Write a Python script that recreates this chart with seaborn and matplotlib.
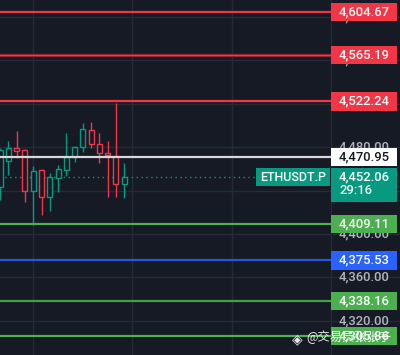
import matplotlib
matplotlib.use("Agg")
import matplotlib.pyplot as plt
import matplotlib.transforms as mtransforms
from matplotlib.patches import Rectangle
import seaborn as sns
import numpy as np
import pandas as pd

# ---- data -------------------------------------------------------------
opens  = [4443.2, 4467.2, 4479.2, 4477.4, 4439.6, 4458.9, 4434.0, 4451.5,
          4458.9, 4470.9, 4480.1, 4495.8, 4482.9, 4474.6, 4471.8, 4446.0]
closes = [4477.4, 4479.2, 4476.4, 4439.6, 4458.0, 4434.0, 4452.5, 4459.8,
          4470.9, 4480.1, 4496.7, 4482.9, 4474.6, 4472.8, 4446.0, 4452.06]
highs  = [4479.0, 4485.7, 4494.9, 4478.0, 4462.6, 4459.8, 4456.1, 4463.5,
          4493.0, 4481.0, 4502.3, 4503.2, 4493.0, 4485.7, 4520.7, 4465.4]
lows   = [4431.3, 4454.3, 4470.0, 4429.4, 4408.2, 4417.4, 4421.1, 4438.6,
          4453.4, 4466.3, 4475.5, 4479.2, 4465.4, 4434.0, 4434.0, 4433.1]

level_prices = [4604.67, 4565.19, 4522.24, 4470.95, 4409.11, 4375.53, 4338.16, 4305.86]
level_kinds  = ["red", "darkred", "red", "white", "green", "blue", "green2", "green"]
axis_ticks   = [4600, 4560, 4520, 4480, 4440, 4400, 4360, 4320]
last_price   = 4452.06
symbol       = "ETHUSDT.P"
countdown    = "29:16"
watermark    = "@交易员张张子"

# ---- style ------------------------------------------------------------
BG = "#161a25"
GRID = "#252a36"
UP = "#089981"
DOWN = "#f23645"
line_col = {"red": "#f23645", "darkred": "#c42a3a", "white": "#d8d8d8",
            "green": "#4caf50", "green2": "#43a047", "blue": "#2456e0"}
box_col = {"red": "#f23645", "darkred": "#f23645", "white": "#ffffff",
           "green": "#4caf50", "green2": "#4caf50", "blue": "#2962ff"}

sns.set_theme(style="dark", rc={"axes.facecolor": BG, "figure.facecolor": BG})
plt.rcParams["font.family"] = ["Roboto", "DejaVu Sans"]

fig = plt.figure(figsize=(4.0, 3.55), dpi=100)
ax = fig.add_axes([0, 0, 1, 1])
ax.set_facecolor(BG)

PX = 8.27  # pixels per candle
x_lo = -0.02
x_hi = x_lo + 400 / PX
y_top = 4604.67 + 12 / 1.084
y_bot = 4604.67 - 343 / 1.084
ax.set_xlim(x_lo, x_hi)
ax.set_ylim(y_bot, y_top)
ax.set_axis_off()

df = pd.DataFrame({"open": opens, "close": closes, "high": highs, "low": lows})
df["idx"] = np.arange(len(df))
df["color"] = np.where(df["close"] >= df["open"], UP, DOWN)

# grid
for gx in [4, 16, 28, 40]:
    ax.axvline(gx, color=GRID, lw=1.0, zorder=0)
for gy in axis_ticks:
    ax.axhline(gy, color=GRID, lw=1.0, zorder=0)

# candles (hollow)
ax.vlines(df["idx"], df["low"], df["high"], colors=df["color"], lw=1.0, zorder=2)
bottoms = np.minimum(df["open"], df["close"])
heights = np.maximum(np.abs(df["close"] - df["open"]), 0.8)
ax.bar(df["idx"], heights, bottom=bottoms, width=0.6, facecolor=BG,
       edgecolor=df["color"], linewidth=1.0, zorder=3)

# last price dotted
ax.axhline(last_price, xmin=0, xmax=256 / 400, color=UP, lw=1.0,
           linestyle=(0, (1, 2.5)), zorder=1)

# horizontal levels
for p, k in zip(level_prices, level_kinds):
    if k == "darkred":
        ax.axhline(p, xmax=331 / 400, color="#8a1c28", lw=2.4, zorder=4)
        ax.axhline(p, xmax=331 / 400, color="#d0485a", lw=1.0, zorder=4)
    else:
        ax.axhline(p, xmax=331 / 400, color=line_col[k], lw=1.6, zorder=4)

trans = mtransforms.blended_transform_factory(ax.transAxes, ax.transData)
BX0, BX1 = 331 / 400, 397 / 400
BXC = (BX0 + BX1) / 2
UNIT = 1.084  # px per price unit
FS = 9.4
FW = "medium"

# axis tick labels (partly hidden behind boxes)
for t in axis_ticks:
    ax.text(BXC, t, f"{t:,.2f}", transform=trans, ha="center", va="center",
            color="#b2b5be", fontsize=FS, fontweight=FW, zorder=5)

# level boxes
hh = 9.2 / UNIT
for p, k in zip(level_prices, level_kinds):
    ax.add_patch(Rectangle((BX0, p - hh), BX1 - BX0, 2 * hh, transform=trans,
                           facecolor=box_col[k], edgecolor="none", zorder=6))
    ax.text(BXC, p, f"{p:,.2f}", transform=trans, ha="center", va="center",
            color="#131722" if k == "white" else "white", fontsize=FS,
            fontweight=FW, zorder=7)

# last price box with countdown
top_v = last_price + 9 / UNIT
bot_v = last_price - 25 / UNIT
ax.add_patch(Rectangle((BX0, bot_v), BX1 - BX0, top_v - bot_v, transform=trans,
                       facecolor=UP, edgecolor="none", zorder=6))
ax.text(BXC, last_price, f"{last_price:,.2f}", transform=trans, ha="center",
        va="center", color="white", fontsize=FS, fontweight=FW, zorder=7)
ax.text(339 / 400, last_price - 13.5 / UNIT, countdown, transform=trans, ha="left",
        va="center", color="#e6f4f1", fontsize=FS, fontweight=FW, zorder=7)

# symbol box
ax.add_patch(Rectangle((256 / 400, last_price - 9 / UNIT), 74 / 400, 18 / UNIT,
                       transform=trans, facecolor=UP, edgecolor="none", zorder=6))
ax.text(293 / 400, last_price, symbol, transform=trans, ha="center", va="center",
        color="white", fontsize=9.0, fontweight=FW, zorder=7)

# watermark
fig.text(297 / 400, 1 - 339 / 355, "◈", ha="center", va="center", color="white",
         alpha=0.9, fontsize=10, family=["DejaVu Sans"], zorder=10)
fig.text(306 / 400, 1 - 337 / 355, watermark, ha="left", va="center", color="white",
         alpha=0.9, fontsize=8.8, family=["Noto Sans CJK SC", "DejaVu Sans"], zorder=10)

fig.savefig("out.png", dpi=100, facecolor=BG)
